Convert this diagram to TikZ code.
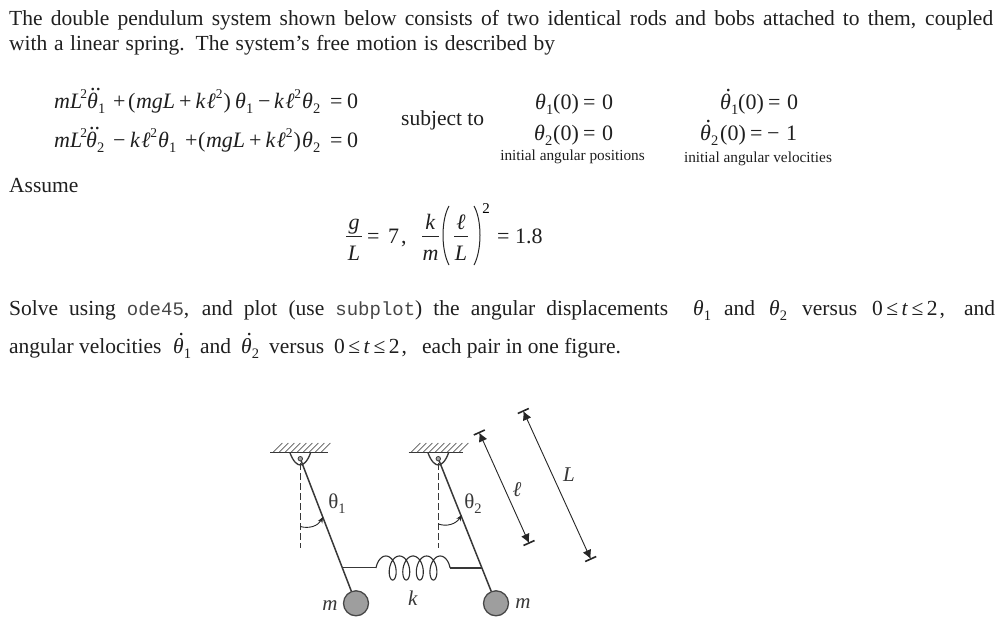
\documentclass[tikz,border=0pt]{standalone}
\usepackage{fontspec}
\setmainfont{Liberation Serif}
\setmonofont{Liberation Mono}
\usetikzlibrary{arrows.meta,calc}
\newcommand{\sizedtext}[1]{\fontsize{#1}{#1}\selectfont}
\newcommand{\seg}[2]{\makebox[#1pt][l]{#2}}
\newcommand{\ith}{\textit{θ}}
\newcommand{\subs}[1]{\raisebox{-5pt}{\sizedtext{14.5}#1}}
\newcommand{\sups}[1]{\raisebox{9.5pt}{\sizedtext{13.5}#1}}
\newcommand{\lell}{\textit{ℓ}}
\newcommand{\ddth}{\makebox[0pt][l]{\raisebox{18pt}{\hspace{3pt}..}}\ith}
\newcommand{\dth}{\makebox[0pt][l]{\raisebox{18pt}{\hspace{5.5pt}.}}\ith}
\newcommand{\ineq}{0\hspace{3.5pt}≤\hspace{3.5pt}\textit{t}\hspace{3.5pt}≤\hspace{3.5pt}2\hspace{2pt},}
\newcommand{\mcode}[1]{{\ttfamily\sizedtext{19}\color{black!72}#1}}
\newcommand{\sumexpr}{(\hspace{.5pt}\textit{mgL}\hspace{4pt}+\hspace{4pt}\textit{k}\hspace{1pt}\lell\sups{2}\hspace{1pt})}
\tikzset{
  para/.style={anchor=base west,inner sep=0pt,font=\sizedtext{21.5},text=black!88},
  eqn/.style={anchor=base west,inner sep=0pt,font=\sizedtext{22},text=black!88},
  smalltxt/.style={anchor=base,inner sep=0pt,font=\sizedtext{15.3},text=black!88},
  lbl/.style={anchor=center,inner sep=0pt,font=\sizedtext{21},text=black!78},
  rod/.style={line width=1.5pt,draw=black!78},
  thinline/.style={line width=1.3pt,draw=black!78},
  dashline/.style={line width=1.1pt,draw=black!78,dash pattern=on 6.5pt off 3.5pt},
  hatchline/.style={line width=.7pt,draw=black!65},
  bob/.style={circle,draw=black!72,fill=black!38,line width=1.3pt,minimum size=25pt,inner sep=0pt},
  dimline/.style={line width=.9pt,draw=black!85,{Latex[length=9pt,width=9pt]}-{Latex[length=9pt,width=9pt]}},
  endbar/.style={line width=1.6pt,draw=black!85},
  anglearrow/.style={line width=.9pt,draw=black!85,-{Stealth[length=6pt,width=5pt]}},
  pivot/.style={circle,draw=black!75,fill=black!35,line width=.8pt,minimum size=4.5pt,inner sep=0pt},
  fracbar/.style={line width=.8pt,draw=black!85},
  parenline/.style={line width=1pt,draw=black!85}
}
\begin{document}
\begin{tikzpicture}[x=1pt,y=-1pt]
\useasboundingbox (0,0) rectangle (999,621);
\fill[white] (0,0) rectangle (999,621);
% paragraph
\node[para] (p1) at (9,25) {\makebox[984pt][s]{The double pendulum system shown below consists of two identical rods and bobs attached to them, coupled}};
\node[para] (p2) at (9,50) {\makebox[546pt][s]{with a linear spring.  The system's free motion is described by}};
\node[eqn] (e1) at (54,108) {\seg{33}{\textit{mL}\hspace{-2pt}\sups{2}}\seg{26}{\ddth\subs{1}}\seg{15}{+}\seg{107}{\sumexpr}\seg{23}{\ith\subs{1}}\seg{16}{−}\seg{28}{\textit{k}\hspace{1pt}\lell\sups{2}}\seg{28}{\ith\subs{2}}\seg{17}{=}0};
\node[eqn] (e2) at (54,147) {\seg{32}{\textit{mL}\hspace{-2pt}\sups{2}}\seg{27}{\ddth\subs{2}}\seg{17}{−}\seg{28}{\textit{k}\hspace{1pt}\lell\sups{2}}\seg{27}{\ith\subs{1}}\seg{13}{+}\seg{104}{\sumexpr}\seg{28}{\ith\subs{2}}\seg{17}{=}0};
\node[para] (subj) at (401,125) {subject to};
\node[eqn] (i1) at (535,109) {\seg{18}{\ith\subs{1}}\seg{30}{(0)}\seg{19}{=}0};
\node[eqn] (i2) at (534,140) {\seg{19}{\ith\subs{2}}\seg{30}{(0)}\seg{19}{=}0};
\node[smalltxt] (ipos) at (572.5,160.5) {initial angular positions};
\node[eqn] (v1) at (720,109) {\seg{18}{\dth\subs{1}}\seg{30}{(0)}\seg{19}{=}0};
\node[eqn] (v2) at (700,140) {\seg{20}{\dth\subs{2}}\seg{30}{(0)}\seg{17}{=}\seg{19}{−}1};
\node[smalltxt] (ivel) at (758,162.5) {initial angular velocities};
\node[para] (assume) at (9,192) {Assume};
% parameter relations
\node[eqn,anchor=base] (fg) at (354,229) {\textit{g}};
\node[eqn,anchor=base] (fL) at (354,260) {\textit{L}};
\draw[fracbar] (346,236.5) -- (362,236.5);
\node[eqn] (seven) at (367,243) {\seg{21}{=}\seg{13}{7},};
\node[eqn,anchor=base] (fk) at (430.5,229) {\textit{k}};
\node[eqn,anchor=base] (fm) at (430.5,260) {\textit{m}};
\draw[fracbar] (422,236.5) -- (439,236.5);
\draw[parenline] (449,206) .. controls (441,220) and (441,250) .. (449,265);
\node[eqn,anchor=base] (fl) at (461,229) {\lell};
\node[eqn,anchor=base] (fL2) at (461,260) {\textit{L}};
\draw[fracbar] (454,236.5) -- (468,236.5);
\draw[parenline] (474,206) .. controls (482,220) and (482,250) .. (474,265);
\node[anchor=base,inner sep=0pt,font=\sizedtext{15}] (sq) at (486,213) {2};
\node[eqn] (val) at (497,243) {\seg{18}{=}1.8};
% solve
\node[para] (p3) at (9,315) {\seg{684}{\makebox[659pt][s]{Solve using \mcode{ode45}, and plot (use \mcode{subplot}) the angular displacements}}\seg{31}{\ith\subs{1}}\seg{45}{and}\seg{33}{\ith\subs{2}}\seg{70}{versus}\seg{92}{\ineq}and};
\node[para] (p4) at (9,353) {\seg{164}{angular velocities}\seg{27}{\dth\subs{1}}\seg{41}{and}\seg{28}{\dth\subs{2}}\seg{65}{versus}\seg{88}{\ineq}each pair in one figure.};
% pendulum geometry
\coordinate (pvA) at (300.3,458.7);
\coordinate (pvB) at (438.3,458.7);
\node[bob] (bobA) at (356,603.3) {};
\node[bob] (bobB) at (496,603.3) {};
% ceilings
\foreach \c/\a/\b in {300.3/270/328, 438.3/408.7/463}{
  \draw[line width=1.1pt,draw=black!78] (\a,452.3) -- (\b,452.3);
  \foreach \k in {0,...,8}{
    \draw[hatchline] ({\c-27+\k*6},452) -- ({\c-18+\k*6},443);
  }
  \draw[line width=1.3pt,draw=black!78] ({\c-10.5},452.3) .. controls ({\c-7},462) and ({\c-3},465) .. (\c,465) .. controls ({\c+3},465) and ({\c+7},462) .. ({\c+10.5},452.3);
}
\draw[rod] (pvA) -- (bobA);
\draw[rod] (pvB) -- (bobB);
\node[pivot] (pnA) at (pvA) {};
\node[pivot] (pnB) at (pvB) {};
\coordinate (dA) at (300.3,548);
\coordinate (dB) at (438.3,548);
\draw[dashline] (300.3,463) -- (dA);
\draw[dashline] (438.3,463) -- (dB);
% angle arrows
\coordinate (aA) at (323,517);
\coordinate (aB) at (461.7,515);
\draw[anglearrow] (300.3,526.5) .. controls (309,529) and (318,526) .. (aA);
\draw[anglearrow] (438.3,524) .. controls (447,527) and (456,524) .. (aB);
% spring
\coordinate (sA) at (343.3,567.5);
\coordinate (sB) at (481.7,568);
\draw[thinline] (sA) -- (376,567.5);
\draw[thinline] (450,568) -- (sB);
\draw[line width=1.1pt,draw=black!82] plot[smooth,samples=220,domain={-pi/2}:{8.5*pi}] ({376+2.16*(\x+pi/2)+6.5*(sin(\x r)+1)},{568-12*cos(\x r)});
% dimensions
\coordinate (l1) at (479.3,432.5);
\coordinate (l2) at (529,543);
\coordinate (L1) at (523.3,411);
\coordinate (L2) at (590.7,559);
\draw[dimline] (l1) -- (l2);
\draw[dimline] (L1) -- (L2);
\foreach \e in {l1,l2,L1,L2}{
  \draw[endbar] ($(\e)+(-5.5,2.5)$) -- ($(\e)+(5.5,-2.5)$);
}
% labels
\node[lbl] (t1) at (337,504) {θ\subs{1}};
\node[lbl] (t2) at (473,504) {θ\subs{2}};
\node[lbl] (lab1) at (517,490) {\lell};
\node[lbl] (lab2) at (569,475) {\textit{L}};
\node[lbl] (labk) at (413,598) {\textit{k}};
\node[lbl] (labm1) at (330,606) {\textit{m}};
\node[lbl] (labm2) at (523,604) {\textit{m}};
\end{tikzpicture}
\end{document}
